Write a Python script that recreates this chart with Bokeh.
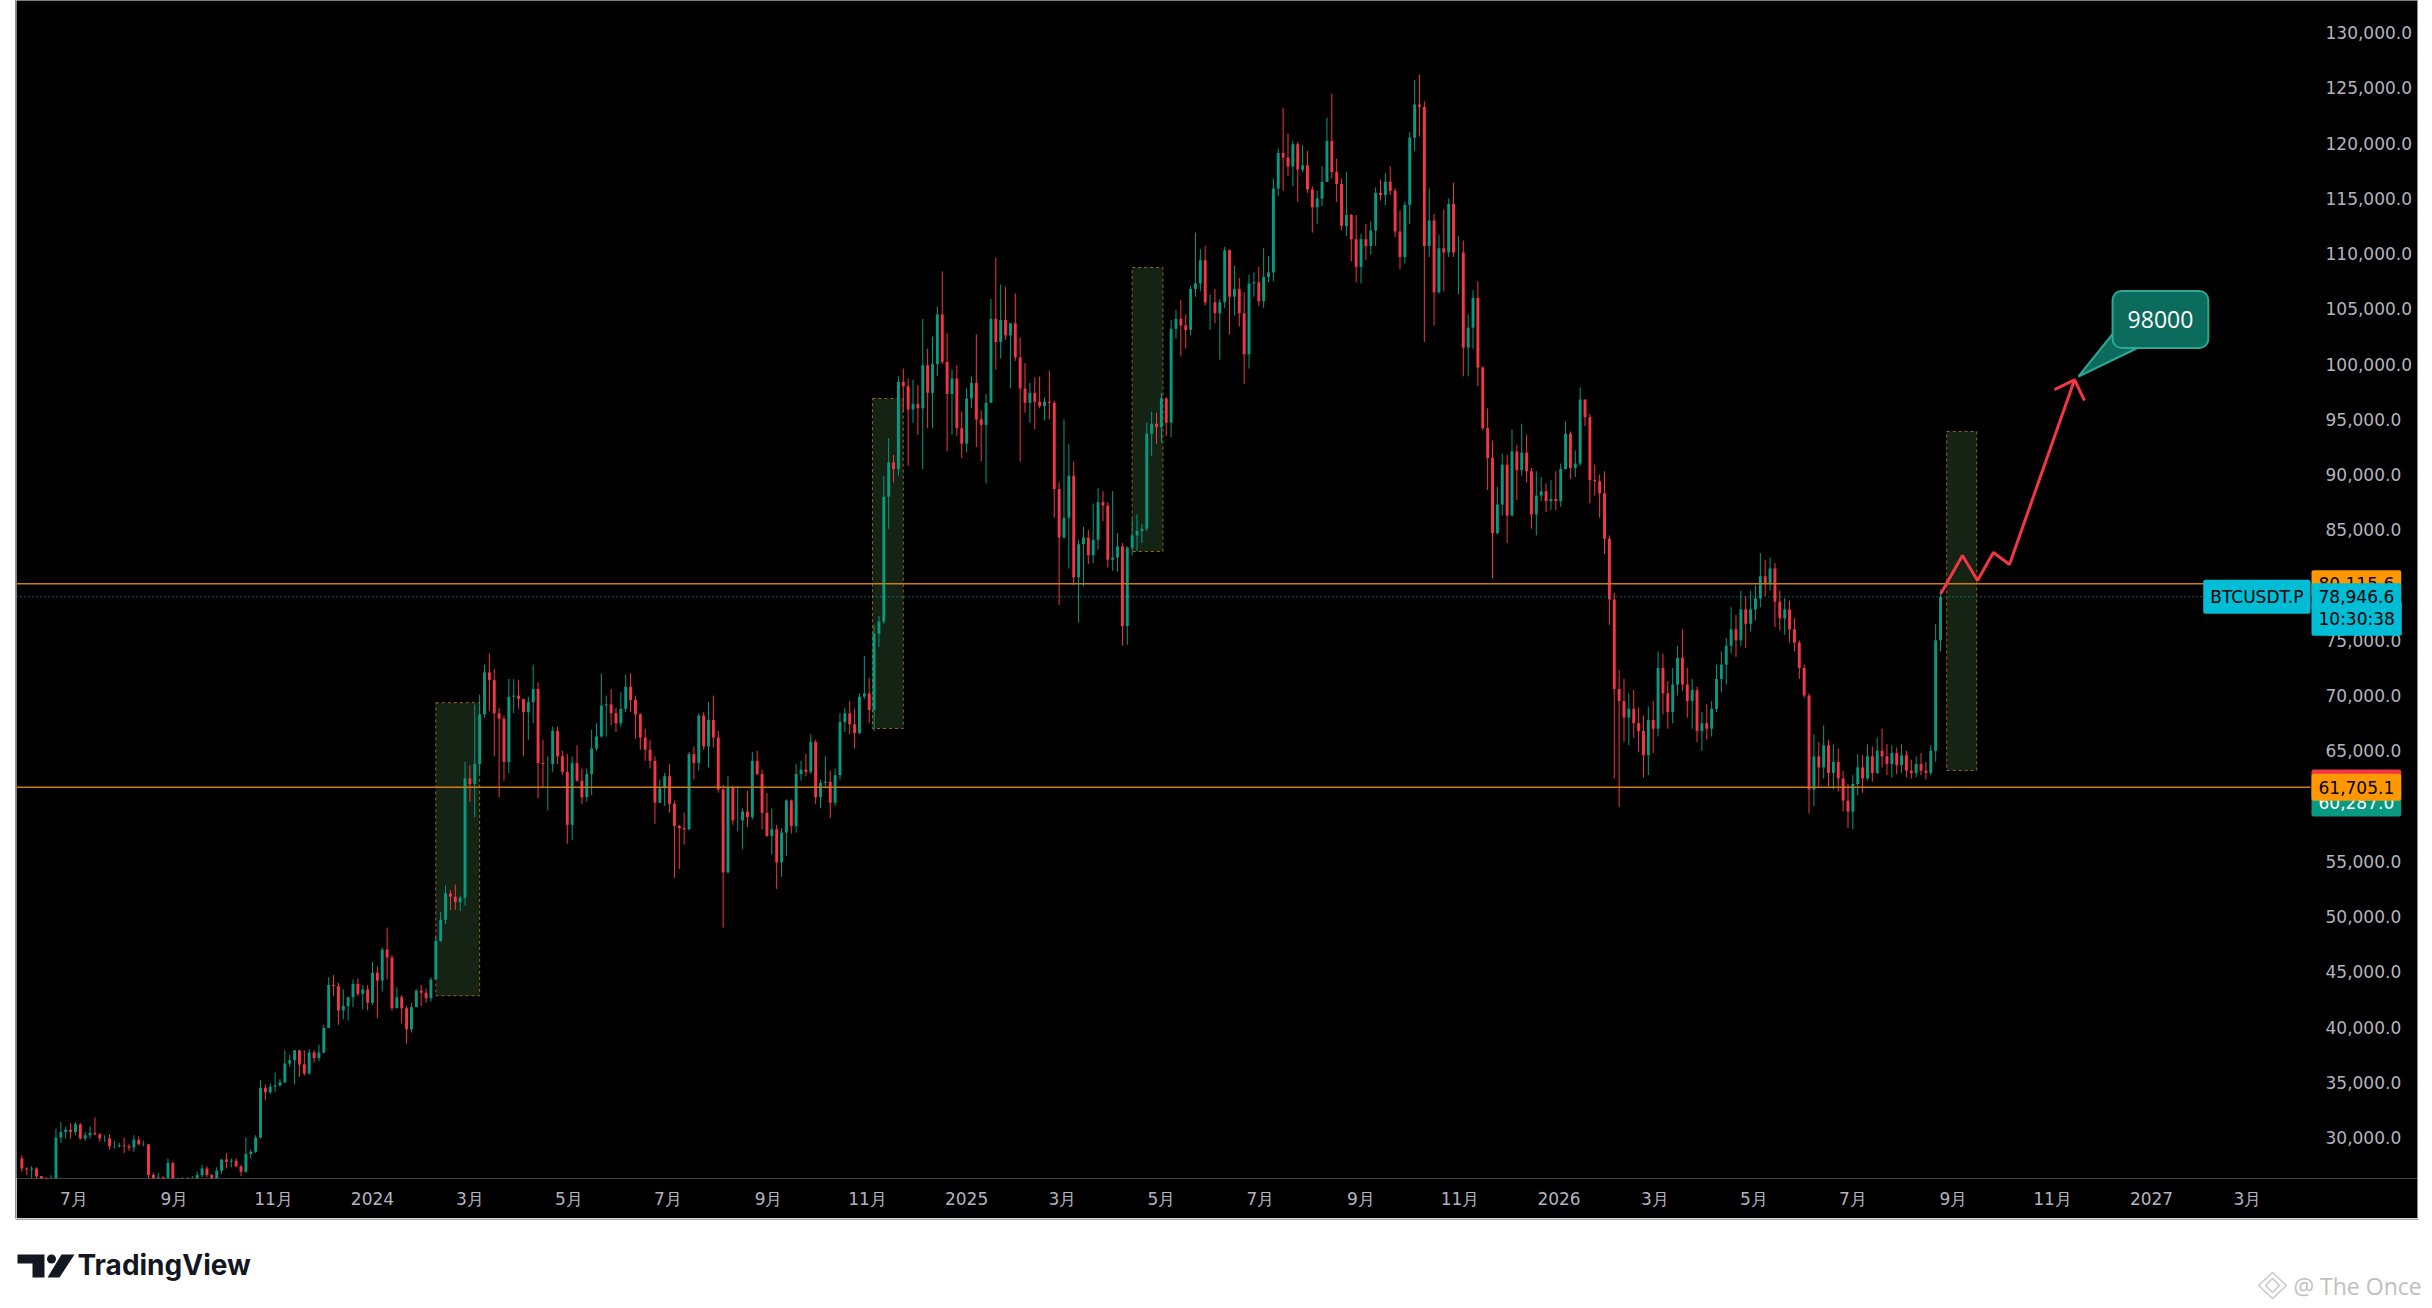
import numpy as np
import pandas as pd
from bokeh.plotting import figure
from bokeh.models import (Range1d, MonthsTicker, CustomJSTickFormatter, Label,
                          ColumnDataSource, Spacer)
from bokeh.layouts import column, row
from bokeh.embed import file_html
from bokeh.resources import INLINE
from bokeh.core.properties import value

# ---------------- data (3-day candles, values in thousands USDT) ----------------
seg_starts = ["2023-05-29", "2024-01-03", "2025-01-03", "2026-01-01"]
first_open = 28.1

close_2023 = [27.2,27.1,27.2,26.5,25.9,25.6,26.3,30.0,30.5,30.7,
              30.5,31.2,29.9,30.2,30.4,30.3,29.9,29.9,29.2,29.2,
              29.3,29.2,29.1,29.8,29.4,29.4,26.6,26.2,26.4,26.0,
              27.7,25.8,25.8,26.2,25.8,26.2,26.6,27.2,26.6,26.3,
              27.0,28.0,27.8,27.9,27.4,26.9,28.5,28.7,30.0,34.5,
              34.1,34.6,34.7,35.0,36.7,37.0,37.9,36.6,35.8,37.7,
              37.2,37.7,39.9,43.8,43.7,41.5,41.9,42.7,43.9,43.0,
              43.4,42.2,44.9]
high_2023 = [28.4,27.3,27.4,27.3,26.5,26.4,26.6,30.8,31.4,31.0,
             31.3,31.4,31.3,30.5,31.0,31.8,30.4,30.2,30.3,29.7,
             29.5,30.0,29.4,30.2,30.1,29.7,29.4,26.8,26.8,26.5,
             28.1,27.8,26.1,26.4,26.4,26.5,26.9,27.5,27.4,26.7,
             27.3,28.0,28.6,28.1,28.1,27.5,30.0,28.9,30.2,35.2,
             34.8,34.9,35.9,35.3,37.9,37.5,37.9,37.9,37.9,38.0,
             37.9,38.4,40.2,44.5,44.7,44.0,43.4,42.7,44.3,44.4,
             43.8,43.8,45.9]
low_2023 = [26.9,26.6,25.4,26.1,25.4,24.8,25.2,26.3,29.5,29.9,
            29.9,30.2,29.8,29.7,29.9,30.2,29.6,29.6,28.9,29.0,
            29.1,28.6,28.8,28.7,29.3,29.2,25.2,25.6,25.8,25.8,
            25.9,25.4,25.6,25.4,25.6,24.9,26.1,26.4,26.4,26.0,
            26.1,26.7,27.2,27.3,27.3,26.5,26.8,28.1,28.6,29.9,
            33.4,33.9,34.1,34.6,34.9,36.4,34.8,35.5,35.6,35.7,
            36.8,36.9,37.6,39.9,42.8,40.2,40.7,40.6,41.8,42.8,
            41.6,41.5,42.0]

close_2024 = [44.2,47.0,46.3,41.7,42.7,41.7,39.8,41.8,43.3,43.1,
              42.6,44.3,47.8,49.7,52.1,51.8,51.3,51.7,62.5,62.0,
              63.8,68.3,72.1,71.4,68.4,67.9,64.0,69.9,70.0,69.7,
              68.5,69.4,70.6,63.9,63.8,63.8,66.8,64.5,63.1,58.3,
              63.9,62.3,60.8,62.9,65.2,66.3,69.1,69.2,68.4,67.5,
              68.8,70.8,69.6,68.3,66.2,65.1,64.1,60.3,61.6,62.7,
              60.2,58.2,58.0,57.9,64.7,63.9,68.2,65.4,67.8,66.2,
              61.5,54.0,61.7,58.7,58.7,59.5,59.0,64.1,62.9,59.4,
              57.3,57.9,54.9,57.6,60.5,58.2,62.9,63.3,63.1,65.8,
              60.8,62.1,62.2,60.3,62.8,67.6,68.4,67.4,66.6,69.9,
              70.2,68.7,75.6,76.7,88.0,91.1,90.5,98.4,98.0,95.9,
              96.4,96.0,99.9,97.4,100.0,104.5,100.2,97.3,98.7,94.2,
              92.8,96.9]
high_2024 = [45.5,47.2,49.0,46.5,43.6,42.9,41.9,42.2,43.4,43.8,
             43.5,44.5,48.2,50.4,52.8,52.4,52.9,51.9,64.0,63.7,
             69.2,70.1,72.8,73.8,72.4,68.9,68.2,71.5,71.5,71.4,
             69.7,69.9,72.8,71.2,66.0,64.5,67.2,67.2,65.0,64.7,
             64.5,65.5,63.4,63.4,66.9,67.5,72.0,70.0,70.6,68.9,
             70.3,71.9,72.0,70.0,68.4,67.0,66.0,64.5,62.4,63.0,
             63.8,60.5,58.3,59.4,64.9,65.4,68.4,68.5,69.4,70.0,
             66.8,61.9,62.7,61.8,61.8,59.8,61.4,64.9,65.0,63.3,
             61.2,59.8,58.3,58.0,60.6,60.6,63.8,64.1,64.7,66.5,
             66.0,62.4,64.5,63.2,63.4,68.4,68.9,69.5,68.8,70.2,
             73.6,71.6,76.4,77.2,89.9,93.3,91.8,98.9,99.6,98.7,
             98.6,98.1,104.1,101.4,102.5,105.2,108.4,102.8,99.5,99.9,
             95.7,97.8]
low_2024 = [40.8,43.2,44.3,41.5,41.7,40.3,38.5,39.5,41.8,41.9,
            42.2,42.3,44.3,47.7,49.3,50.6,50.6,50.5,51.0,60.4,
            59.0,62.8,68.0,68.6,64.5,60.8,62.3,63.0,68.4,68.8,
            64.5,66.0,67.5,60.7,61.7,59.6,63.1,63.8,62.8,56.6,
            56.9,62.2,60.2,60.4,61.0,65.0,66.2,66.3,67.3,66.7,
            67.2,68.5,68.5,66.1,65.1,64.1,63.4,58.4,60.3,60.0,
            59.4,53.5,54.3,56.5,57.8,62.4,63.2,65.1,63.5,65.3,
            61.2,49.0,53.9,58.3,57.7,56.1,58.1,58.8,62.8,57.9,
            57.2,55.6,52.5,53.6,55.5,57.5,57.6,62.3,62.7,62.9,
            60.2,59.8,61.6,58.9,60.0,62.4,66.7,66.5,65.2,66.5,
            69.7,67.5,66.8,74.4,76.5,85.1,89.3,89.9,95.7,90.8,
            94.7,93.6,90.5,94.2,94.2,98.9,100.0,92.1,93.6,93.5,
            91.5,92.0]

close_2025 = [98.3,95.0,94.5,96.5,104.1,102.0,104.0,102.6,103.7,100.6,
              97.8,96.5,97.4,96.6,96.2,96.6,96.5,88.7,84.3,86.1,
              89.9,80.7,83.7,84.3,82.7,84.1,87.5,87.2,82.3,82.5,
              83.5,76.3,83.4,84.5,84.9,85.1,93.7,94.6,94.3,96.9,
              94.7,103.2,104.1,103.5,103.1,106.8,107.3,109.4,105.6,105.6,
              104.6,105.6,110.3,106.1,106.8,104.6,100.9,107.3,107.4,105.7,
              107.9,108.3,115.9,119.1,118.7,117.9,119.9,117.6,118.0,115.8,
              114.2,115.0,116.5,120.2,117.4,116.3,112.5,113.5,111.3,108.8,
              111.3,110.7,112.1,115.5,115.3,116.5,115.7,112.0,109.7,114.4,
              120.5,123.5,123.3,110.7,113.0,106.5,110.5,110.1,114.5,110.1,
              110.1,101.5,103.3,106.0,99.7,94.2,91.5,84.7,87.3,90.9,
              86.3,92.1,90.4,92.0,90.3,86.4,88.1,88.5,87.6,87.8,
              87.6]
high_2025 = [98.9,102.7,95.8,97.3,105.9,109.6,107.2,107.0,103.7,106.4,
             102.4,100.1,98.3,98.8,98.9,97.0,99.4,96.7,89.3,95.0,
             92.8,91.2,84.1,85.3,85.0,87.4,88.8,88.5,87.5,88.5,
             84.7,83.8,83.5,86.0,86.4,85.5,94.7,95.7,95.6,97.4,
             97.0,104.0,104.9,105.8,104.5,107.1,111.9,110.4,110.7,106.3,
             106.8,105.9,110.6,110.4,108.9,107.8,106.5,108.1,108.3,108.8,
             110.5,109.8,116.8,119.5,123.2,120.9,120.2,120.1,119.8,119.3,
             116.1,115.7,117.9,122.3,124.5,118.6,116.8,117.4,113.6,113.5,
             111.8,112.7,112.9,116.0,116.7,117.3,117.9,115.9,113.9,114.7,
             121.0,125.7,126.2,123.8,115.9,113.6,111.7,114.0,115.0,116.4,
             111.6,111.2,104.5,106.7,107.5,99.8,96.0,93.1,88.9,91.9,
             91.8,94.1,92.7,94.6,93.6,90.6,90.3,89.8,89.2,89.5,
             90.3]
low_2025 = [96.0,92.5,91.2,89.2,96.5,99.5,100.5,102.2,97.8,100.3,
            91.2,95.6,94.7,94.1,96.0,94.9,95.0,86.1,78.2,84.2,
            81.5,80.0,76.6,79.9,81.9,82.0,83.2,85.8,81.6,81.3,
            81.2,74.5,74.6,82.7,83.1,83.8,84.9,91.7,92.8,92.9,
            93.5,93.4,102.3,100.7,101.4,102.6,106.1,106.6,105.3,103.1,
            103.7,100.4,105.1,102.7,104.4,103.4,98.2,99.6,106.1,105.3,
            105.1,107.4,107.5,115.2,115.7,117.0,116.1,114.7,117.4,115.5,
            111.9,112.7,114.3,117.2,116.8,114.7,112.1,111.6,109.3,107.4,
            107.3,109.4,109.9,110.7,114.8,114.4,115.3,111.5,108.6,109.1,
            112.7,119.3,120.6,102.0,109.7,103.5,106.4,106.6,109.7,109.7,
            106.3,98.9,98.9,101.4,98.0,94.0,88.6,80.6,84.6,86.3,
            83.8,86.2,87.7,89.9,89.3,85.1,84.5,87.6,86.6,86.8,
            86.8]

close_2026 = [90.5,93.7,90.6,91.0,96.8,95.2,89.5,89.4,88.3,84.2,
              78.7,70.6,69.5,68.0,68.8,67.5,66.8,64.6,67.8,67.0,
              72.5,70.2,68.5,71.0,73.4,71.0,69.5,70.5,66.8,67.5,
              67.0,68.8,71.5,72.8,74.5,76.0,75.0,77.8,76.5,77.8,
              78.8,80.8,80.2,81.5,78.5,77.0,77.8,76.0,74.8,72.5,
              70.0,61.5,64.5,63.5,65.5,63.0,64.0,62.5,60.5,59.5,
              62.0,63.5,62.5,64.5,63.0,65.0,64.5,63.8,64.8,63.7,
              64.6,63.2,63.0,63.8,63.2,63.0,65.0,75.0,78.9466]
high_2026 = [91.0,94.8,93.9,92.2,97.9,96.5,95.5,90.9,90.0,90.3,
             84.5,79.3,72.3,71.5,70.2,70.5,68.9,68.2,69.0,69.5,
             74.0,73.8,71.3,72.5,74.5,76.0,72.5,71.5,70.8,68.5,
             69.2,69.5,72.8,74.0,75.2,78.0,77.3,79.5,79.0,79.5,
             80.0,82.9,82.3,82.5,82.0,79.5,78.8,78.6,77.0,75.0,
             72.8,70.2,66.5,65.8,67.3,66.0,65.6,65.2,63.2,62.0,
             62.8,64.7,64.6,65.6,65.4,66.2,67.0,65.6,65.5,65.3,
             65.6,65.0,64.2,64.5,64.8,64.0,65.5,76.5,79.6]
low_2026 = [87.1,91.0,89.6,89.8,90.8,94.4,87.4,88.1,86.1,82.8,
            76.4,62.5,59.9,65.8,65.5,66.2,64.9,62.6,62.8,64.8,
            66.3,68.3,67.0,67.5,70.0,70.4,68.0,67.0,65.8,65.0,
            66.0,66.3,68.5,70.3,71.0,73.8,73.5,74.5,74.3,75.8,
            76.8,78.0,79.0,79.5,76.2,75.9,75.5,74.8,74.0,71.5,
            69.8,59.3,60.0,61.8,62.5,61.8,61.5,61.3,59.5,58.0,
            57.9,61.0,61.2,62.3,62.2,62.9,63.5,62.8,62.6,62.9,
            63.0,62.6,62.5,62.6,62.8,62.4,62.8,64.0,74.0]

price_ticks = [30000, 35000, 40000, 45000, 50000, 55000, 60000, 65000, 70000, 75000, 80000,
               85000, 90000, 95000, 100000, 105000, 110000, 115000, 120000, 125000, 130000]
tick_months = [0, 2, 4, 6, 8, 10]

last_price = 78946.6
countdown = "10:30:38"
symbol = "BTCUSDT.P"
level_upper = 80115.6
level_lower = 61705.1
label_low = 60287.0
label_red = 62086.0
target_text = "98000"

# date-range boxes
box_start = ["2024-02-09", "2024-11-04", "2025-04-13", "2026-08-27 19:00"]
box_end = ["2024-03-07", "2024-11-23", "2025-05-02", "2026-09-15 07:00"]
box_low = [42835, 67020, 83041, 63222]
box_high = [69357, 96890, 108747, 93906]

# projected path drawing
path_time = ["2026-08-24 02:00", "2026-09-06 12:00", "2026-09-15 19:00",
             "2026-09-25 14:00", "2026-10-05 12:00", "2026-11-14 14:00"]
path_price = [79200, 82680, 80420, 82950, 81870, 98580]
head_time = ["2026-11-02 05:00", "2026-11-14 14:00", "2026-11-20 17:00"]
head_price = [97700, 98580, 96710]
callout_time = "2027-01-06 12:00"
callout_price = 104040
tail_time = ["2026-12-09 19:00", "2026-12-24 00:00", "2026-11-17 00:00"]
tail_price = [103045, 101506, 98882]

# ---------------- layout calibration (page pixels) ----------------
T0 = pd.Timestamp("2024-01-01")
PX_PER_DAY = 1.6232
X0_WIN = 372.0
FRAME_L, PANE_R, FRAME_R = 16, 2310, 2417
FRAME_T, FRAME_B = 0, 1178
PX_PER_USD = 0.011048
Y130_WIN = 32.2
W_CHART, H_CHART = FRAME_R - FRAME_L, 1218
FOOT_W, FOOT_H = 2432, 90

def ms(t):
    return pd.Timestamp(t).value / 1e6

def win_x_to_ms(px):
    return ms(T0 + pd.Timedelta(days=(px - X0_WIN) / PX_PER_DAY))

def win_y_to_price(py):
    return 130000 - (py - Y130_WIN) / PX_PER_USD

x_start, x_pane, x_end = win_x_to_ms(FRAME_L), win_x_to_ms(PANE_R), win_x_to_ms(FRAME_R)
y_bottom, y_top = win_y_to_price(FRAME_B), win_y_to_price(FRAME_T)

# ---------------- candles ----------------
closes = close_2023 + close_2024 + close_2025 + close_2026
highs = high_2023 + high_2024 + high_2025 + high_2026
lows = low_2023 + low_2024 + low_2025 + low_2026
dates = []
for s, seg in zip(seg_starts, [close_2023, close_2024, close_2025, close_2026]):
    dates += list(pd.date_range(s, periods=len(seg), freq="3D"))
centers = pd.DatetimeIndex(dates) + pd.Timedelta(days=1)

c = np.array(closes) * 1000
o = np.concatenate([[first_open * 1000], c[:-1]])
h = np.maximum.reduce([np.array(highs) * 1000, o, c])
l = np.minimum.reduce([np.array(lows) * 1000, o, c])
UP, DOWN = "#089981", "#f23645"
col = np.where(c >= o, UP, DOWN)
src = ColumnDataSource(dict(x=centers, high=h, low=l, top=np.maximum(o, c),
                            bottom=np.minimum(o, c), color=col))

p = figure(width=W_CHART, height=H_CHART, x_axis_type="datetime", y_axis_location=None,
           x_range=Range1d(x_start, x_end), y_range=Range1d(y_bottom, y_top),
           output_backend="svg", toolbar_location=None,
           background_fill_color="black", border_fill_color="black",
           min_border_left=0, min_border_top=0, min_border_right=0,
           min_border_bottom=H_CHART - FRAME_B)
p.outline_line_color = None
p.grid.visible = False

ax = p.xaxis[0]
ax.ticker = MonthsTicker(months=tick_months)
ax.formatter = CustomJSTickFormatter(args=dict(limit=x_pane), code="""
if (tick > limit) return "";
const d = new Date(tick);
const m = d.getUTCMonth();
return m == 0 ? String(d.getUTCFullYear()) : (m + 1) + "月";
""")
ax.axis_line_color = None
ax.major_tick_line_color = None
ax.minor_tick_line_color = None
ax.major_tick_out = 0
ax.major_tick_in = 0
ax.minor_tick_out = 0
ax.minor_tick_in = 0
ax.major_label_text_color = "#b2b5be"
ax.major_label_text_font = "DejaVu Sans"
ax.major_label_text_font_size = "17px"
ax.major_label_standoff = 10

# price scale labels (TradingView style price scale inside the black panel)
p.text(x=[x_pane] * len(price_ticks), y=price_ticks,
       text=[f"{t:,.1f}" for t in price_ticks], x_offset=15,
       text_align="left", text_baseline="middle", text_color="#b2b5be",
       text_font=value("DejaVu Sans"), text_font_size=value("17px"))

# date range boxes
p.quad(left=[ms(t) for t in box_start], right=[ms(t) for t in box_end],
       bottom=box_low, top=box_high, fill_color="#142313", line_color="#9a6418",
       line_dash="3 3", line_width=1)

# candles
p.segment(x0="x", y0="low", x1="x", y1="high", line_color="color", line_width=1, source=src)
p.vbar(x="x", width=1.8 * 86400000, top="top", bottom="bottom", fill_color="color",
       line_color=None, source=src)

# horizontal levels (stop at the price scale)
p.segment(x0=[x_start, x_start], y0=[level_upper, level_lower], x1=[x_pane, x_pane],
          y1=[level_upper, level_lower], line_color="#c97d16", line_width=1.5)
p.segment(x0=[x_start], y0=[last_price], x1=[x_pane], y1=[last_price],
          line_color="#00bcd4", line_width=1, line_dash="1 3")

# projected path
p.line(x=[ms(t) for t in path_time], y=path_price, line_color="#f23645", line_width=3)
p.line(x=[ms(t) for t in head_time], y=head_price, line_color="#f23645", line_width=3)

# callout
p.patch(x=[ms(t) for t in tail_time], y=tail_price, fill_color="#0b6b5c",
        line_color="#2aa893", line_width=2)
p.add_layout(Label(x=ms(callout_time), y=callout_price, text=target_text,
                   text_align="center", text_baseline="middle", text_color="white",
                   text_font="Open Sans", text_font_size="23px",
                   background_fill_color="#0b6b5c", border_line_color="#2aa893",
                   border_line_width=2, border_radius=9, padding=(15, 20)))

# price scale tags
def price_label(price, text, bg, fg, align="left", x_off=1, y_off=0):
    p.add_layout(Label(x=x_pane, y=price, text=text, text_align=align,
                       text_baseline="middle", text_color=fg, text_font="DejaVu Sans",
                       text_font_size="17px", background_fill_color=bg,
                       padding=(7, 7), border_radius=2, x_offset=x_off, y_offset=y_off))

price_label(label_red, "62,086.0", "#f23645", "#f23645")
price_label(label_low, "60,287.0", "#089981", "white")
price_label(level_lower, "61,705.1", "#ff9800", "black")
price_label(level_upper, "80,115.6", "#ff9800", "black")
price_label(last_price, countdown, "#00bcd4", "black", y_off=-22)
price_label(last_price, "78,946.6", "#00bcd4", "black")
price_label(last_price, symbol, "#00bcd4", "black", align="right", x_off=0)

# ---------------- footer ----------------
f = figure(width=FOOT_W, height=FOOT_H, x_range=Range1d(0, FOOT_W), y_range=Range1d(FOOT_H, 0),
           output_backend="svg", toolbar_location=None, min_border=0,
           x_axis_location=None, y_axis_location=None,
           background_fill_color="white", border_fill_color="white")
f.outline_line_color = None
f.grid.visible = False
f.segment(x0=[15], y0=[0.5], x1=[2418], y1=[0.5], line_color="#8a8d96", line_width=1.5)
# TradingView logo mark
f.patch(x=[17, 44, 44, 32, 32, 17], y=[36, 36, 59, 59, 45, 45], fill_color="#131722", line_color=None)
f.scatter(x=[51], y=[40.5], size=9, marker="circle", fill_color="#131722", line_color=None)
f.patch(x=[61, 74, 59, 47], y=[36, 36, 59, 59], fill_color="#131722", line_color=None)
f.add_layout(Label(x=77, y=46, text="TradingView", text_baseline="middle",
                   text_font="Inter", text_font_style="bold", text_font_size="28px",
                   text_color="#131722"))
# watermark
f.patch(x=[2258, 2272, 2286, 2272], y=[67, 54, 67, 80], fill_color=None,
        line_color="#c8c8c8", line_width=1.5)
f.patch(x=[2265, 2272, 2279, 2272], y=[67, 60, 67, 74], fill_color=None,
        line_color="#c8c8c8", line_width=1.5)
f.add_layout(Label(x=2293, y=67, text="@ The Once", text_baseline="middle",
                   text_font="Open Sans", text_font_size="23px", text_color="#c0c0c0"))

gray = "#8a8d96"
chart_row = row(Spacer(width=15, height=H_CHART),
                Spacer(width=1, height=H_CHART, styles={"background-color": gray}),
                p,
                Spacer(width=1, height=H_CHART, styles={"background-color": gray}))
layout = column(chart_row, f)

open("out.html", "w").write(file_html(layout, INLINE))
